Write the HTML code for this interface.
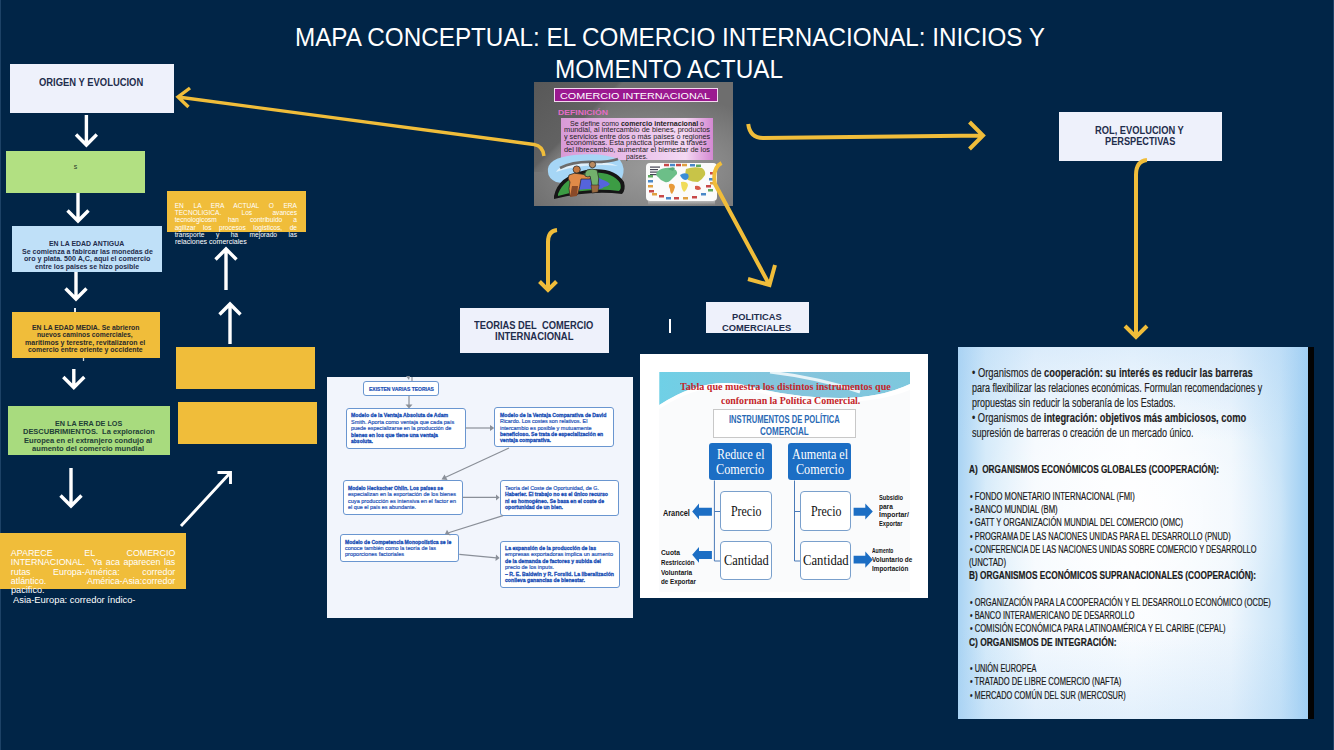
<!DOCTYPE html>
<html><head><meta charset="utf-8">
<style>
html,body{margin:0;padding:0;}
body{width:1334px;height:750px;overflow:hidden;background:#012547;position:relative;font-family:"Liberation Sans",sans-serif;}
.a{position:absolute;box-sizing:border-box;}
svg{position:absolute;left:0;top:0;}
.bx{background:#fff;border:1.2px solid #6a96d0;border-radius:3px;}
.t{position:absolute;white-space:nowrap;line-height:1;transform-origin:0 50%;}
</style></head><body>
<div class="a" style="left:0;top:0;width:1px;height:750px;background:#1d4266"></div>

<!-- left column -->
<div class="a" style="left:10px;top:64px;width:164px;height:49px;background:#eef1fb"></div>
<div class="a" style="left:6px;top:151px;width:139px;height:42px;background:#b2e082"></div>
<div class="a" style="left:12px;top:226px;width:150px;height:46px;background:#bfe0f8"></div>
<div class="a" style="left:12px;top:312px;width:148px;height:46px;background:#f0bd3a"></div>
<div class="a" style="left:8px;top:406px;width:162px;height:49px;background:#a8db7e"></div>
<div class="a" style="left:0px;top:533px;width:186px;height:56px;background:#f0bd3a"></div>

<!-- middle-left column -->
<div class="a" style="left:167px;top:191px;width:139px;height:41px;background:#f0bd3a"></div>
<div class="a" style="left:176px;top:347px;width:139px;height:42px;background:#f0bd3a"></div>
<div class="a" style="left:178px;top:402px;width:139px;height:42px;background:#f0bd3a"></div>

<!-- center image -->
<div class="a" style="left:534px;top:82px;width:199px;height:124px;background:radial-gradient(ellipse 70% 60% at 60% 70%,#9a9a9a 0%,#8a8a8a 45%,#6e6e6e 100%);overflow:hidden">
 <div class="a" style="left:0;top:0;width:90px;height:90px;background:linear-gradient(135deg,#585858 0%,#626262 47%,#6e6e6e 50%,rgba(120,120,120,0) 56%)"></div>
 <div class="a" style="left:20px;top:6px;width:164px;height:14px;background:#9b1990;border:1px solid #f4d8f0"></div>
 <div class="a" style="left:27px;top:36px;width:152px;height:42px;background:linear-gradient(90deg,#d89ad6 0%,#e6b8e6 35%,#f0d0f0 70%,#f4d8f2 82%,#d488d2 100%)"></div>
 <svg width="199" height="124" viewBox="0 0 199 124" style="position:absolute;left:0;top:0">
  <path d="M14 90Q12 76 40 73Q70 70 86 78Q92 86 88 96Q84 102 70 101Q40 104 22 100Q14 96 14 90Z" fill="#a6d6f6"/>
  <path d="M22 90Q28 80 50 80Q70 78 84 84Q70 82 50 84Q32 86 22 90Z" fill="#dff0fb"/>
  <path d="M26 86Q40 79 60 80Q76 80 84 77" stroke="#6c6c6c" stroke-width="2.6" fill="none"/>
  <path d="M20 114Q24 94 52 88Q80 84 90 100Q92 108 88 112Q56 108 20 117Z" fill="#161616"/>
  <path d="M24 112Q30 96 52 91Q78 88 86 101Q88 106 85 109Q56 105 24 114Z" fill="#3c9c44"/>
  <path d="M36 110Q38 98 52 94Q66 93 70 100Q72 106 66 107Q50 106 36 110Z" fill="#5564dc"/>
  <path d="M62 98Q70 96 76 102Q72 106 64 105Z" fill="#5564dc"/>
  <circle cx="42.7" cy="87.5" r="3.6" fill="#c47840" stroke="#222" stroke-width="0.7"/>
  <path d="M35 93Q40 90 47 92L57 94L56 97L47 97Q46 104 44 112L36 114Q34 106 36 100Q33 97 35 93Z" fill="#e08a48" stroke="#222" stroke-width="0.7"/>
  <path d="M38 104L44 104L43 114L36 115Z" fill="#8a4a28"/>
  <circle cx="58.5" cy="82.6" r="3.2" fill="#b88a60" stroke="#222" stroke-width="0.7"/>
  <path d="M53 88Q58 86 63 88Q66 96 64 104L58 104Q57 98 56 94L54 95L51 94Q50 91 53 88Z" fill="#72b06c" stroke="#222" stroke-width="0.7"/>
  <path d="M57 103L65 103L64 110L58 111Z" fill="#9a6a40" stroke="#222" stroke-width="0.5"/>
 </svg>
 <div class="a" style="left:112px;top:80.5px;width:71px;height:38px;background:#fbfbfb;border-radius:4px;overflow:hidden">
  <svg width="71" height="38" viewBox="0 0 71 38" style="position:absolute;left:0;top:0">
   <g fill="#445"><rect x="4" y="3.5" width="10" height="1.2"/><rect x="4" y="6" width="8" height="1.2"/><rect x="4" y="8.5" width="9" height="1.2"/><rect x="4" y="11" width="7" height="1.2"/></g>
   <path d="M11 9Q16 4 26 5Q32 7 31 11Q28 14 25 17Q22 20 19 19Q14 17 12 14Q9 12 11 9Z" fill="#6cbf88"/>
   <path d="M22 6Q26 3 29 5L27 8Z" fill="#58a878"/>
   <path d="M23.5 21Q28 20 29 24Q28 28 26 31Q24 30 24 26Q22 23 23.5 21Z" fill="#e89a38"/>
   <path d="M40 6Q48 3 56 5Q60 8 59 12Q56 17 52 19Q46 19 42 17Q38 13 40 6Z" fill="#c8c448"/>
   <path d="M34 12Q38 9 42 11Q44 15 40 17Q36 17 34 12Z" fill="#3a8ed8"/>
   <path d="M35 19Q41 18 42 22Q41 27 38 29Q35 26 35 19Z" fill="#f0dc58"/>
   <path d="M49 23Q54 22 55 26Q52 28 49 26Z" fill="#d85a4a"/>
   <g fill="#c84848"><rect x="18" y="0.8" width="5" height="2.5"/><rect x="30" y="0.8" width="5" height="2.5"/><rect x="64" y="9" width="5" height="2.5"/><rect x="60" y="22" width="5" height="2.5"/><rect x="3" y="27" width="5" height="2.5"/><rect x="28" y="34" width="5" height="2.5"/><rect x="46" y="33" width="5" height="2.5"/><rect x="13" y="32" width="5" height="2.5"/></g>
   <g fill="#4a88c8"><rect x="24" y="0.8" width="5" height="2.5"/><rect x="44" y="1" width="5" height="2.5"/><rect x="2" y="17" width="5" height="2.5"/><rect x="63" y="15" width="5" height="2.5"/><rect x="20" y="34" width="5" height="2.5"/><rect x="55" y="30" width="5" height="2.5"/></g>
   <g fill="#e0a040"><rect x="36" y="0.8" width="5" height="2.5"/><rect x="2" y="22" width="5" height="2.5"/><rect x="37" y="34" width="5" height="2.5"/><rect x="64" y="19" width="5" height="2.5"/><rect x="6" y="30" width="5" height="2.5"/></g>
   <g fill="#60a860"><rect x="50" y="1.5" width="5" height="2.5"/><rect x="2" y="12" width="5" height="2.5"/><rect x="62" y="26" width="5" height="2.5"/></g>
  </svg>
 </div>
 <div class="a" style="left:114px;top:119px;width:67px;height:4px;background:linear-gradient(180deg,rgba(220,220,220,0.6),rgba(150,150,150,0))"></div>
</div>

<!-- label boxes -->
<div class="a" style="left:1059px;top:112px;width:163px;height:49px;background:#eef1fb"></div>
<div class="a" style="left:706px;top:302px;width:103px;height:31px;background:#eef1fb"></div>
<div class="a" style="left:460px;top:308px;width:149px;height:45px;background:#eef1fb"></div>

<!-- panels -->
<div class="a" style="left:327px;top:377px;width:306px;height:241px;background:#f2f5fc"></div>
<div class="a bx" style="left:363.4px;top:381px;width:75.2px;height:15.2px"></div>
<div class="a bx" style="left:345.6px;top:408.2px;width:120px;height:40.8px"></div>
<div class="a bx" style="left:494.3px;top:407.3px;width:119.5px;height:40.2px"></div>
<div class="a bx" style="left:342.7px;top:480px;width:120px;height:34.7px"></div>
<div class="a bx" style="left:499.6px;top:480.4px;width:119.4px;height:35.2px"></div>
<div class="a bx" style="left:339.6px;top:534.3px;width:119.7px;height:28px"></div>
<div class="a bx" style="left:499.6px;top:541px;width:120px;height:47.4px"></div>
<svg width="1334" height="750" viewBox="0 0 1334 750" style="position:absolute;left:0;top:0">
 <g stroke="#8a8f98" stroke-width="1.2" fill="none">
  <path d="M412 377V381"/>
  <path d="M409 396V405"/>
  <path d="M465.6 428H491"/>
  <path d="M509 448L444 478"/>
  <path d="M462.7 497.4H496.5"/>
  <path d="M503 515.6L448.5 532.8"/>
  <path d="M459.3 554.3L496.5 557.8"/>
 </g>
 <g fill="#8a8f98">
  <path d="M405.5 404.5L412.5 404.5L409 408.5Z"/>
  <path d="M490 425L494.3 428L490 431Z"/>
  <path d="M444.5 474.5L441.5 479.5L447.5 480Z"/>
  <path d="M496 494.4L499.6 497.4L496 500.4Z"/>
  <path d="M447 529.8L445 534L450.5 535.5Z"/>
  <path d="M496 554.6L499.6 558L495.5 561Z"/>
  <path d="M406 376L410 376L409 380Z"/>
 </g>
</svg>
<div class="a" style="left:640px;top:354px;width:288px;height:244px;background:#fff"></div>
<div class="a" style="left:659.3px;top:372px;width:250.7px;height:220px;background:#fafbfc"></div>
<svg width="1334" height="750" viewBox="0 0 1334 750" style="position:absolute;left:0;top:0">
 <defs>
  <linearGradient id="wv" x1="0" y1="0" x2="1" y2="0">
   <stop offset="0" stop-color="#6fd0e6"/><stop offset="0.5" stop-color="#86c4dc"/><stop offset="1" stop-color="#7ec8de"/>
  </linearGradient>
 </defs>
 <path d="M659.3 372H910V384Q880 398 840 398Q790 398 740 384Q700 378 659.3 405Z" fill="url(#wv)"/>
 <path d="M659.3 405Q700 378 740 384Q790 398 840 398Q880 398 910 384V390Q880 402 840 402Q790 402 740 388Q700 382 659.3 409Z" fill="#fff" opacity="0.9"/>
 <path d="M770 372Q820 378 860 392" stroke="#fff" stroke-width="3" fill="none" opacity="0.8"/>
</svg>
<div class="a" style="left:713px;top:409.3px;width:142.7px;height:29px;background:#fff;border:1px solid #c8c8c8"></div>
<div class="a" style="left:708.7px;top:442.6px;width:62.9px;height:37.9px;background:#1c6ec4;border-radius:3px"></div>
<div class="a" style="left:788.1px;top:442.6px;width:62.7px;height:37.9px;background:#1c6ec4;border-radius:3px"></div>
<svg width="1334" height="750" viewBox="0 0 1334 750" style="position:absolute;left:0;top:0">
 <g stroke="#4a7ab8" stroke-width="1" fill="none">
  <path d="M714.4 480.5V561H720.4M714.4 511.5H720.4"/>
  <path d="M794.5 480.5V561H800.3M794.5 511.5H800.3"/>
 </g>
 <g fill="#1c6ec4">
  <path d="M711.9 507.8H699V503.6L692.2 511.5L699 519.4V515.7H711.9Z"/>
  <path d="M711.9 551H699V546.9L692.2 554.8L699 562.7V559H711.9Z"/>
  <path d="M853.6 507.8H865.3V503.6L872.8 511.5L865.3 519.4V515.7H853.6Z"/>
  <path d="M853.6 555.8H865.3V551.6L872.8 559.7L865.3 567.8V563.6H853.6Z"/>
 </g>
</svg>
<div class="a" style="left:720.4px;top:491.2px;width:51.6px;height:40.1px;background:#fff;border:1px solid #7aa0cc;border-radius:4px"></div>
<div class="a" style="left:720.4px;top:540.7px;width:51.6px;height:39.7px;background:#fff;border:1px solid #7aa0cc;border-radius:4px"></div>
<div class="a" style="left:800.3px;top:491.2px;width:51.2px;height:40.1px;background:#fff;border:1px solid #7aa0cc;border-radius:4px"></div>
<div class="a" style="left:800.3px;top:540.7px;width:51.2px;height:39.7px;background:#fff;border:1px solid #7aa0cc;border-radius:4px"></div>
<div class="a" style="left:1302px;top:347px;width:12px;height:372px;background:#030303"></div>
<div class="a" style="left:1333px;top:0;width:1px;height:750px;background:#1d4266"></div>
<div class="a" style="left:958px;top:347px;width:350px;height:372px;background:radial-gradient(ellipse 45% 40% at 50% 45%,rgba(255,255,255,0.9) 0%,rgba(255,255,255,0) 100%),linear-gradient(90deg,#a9d3f3 0%,#d6ebfa 8%,#f4f9fe 22%,#fbfdff 50%,#eef6fd 78%,#c9e4f8 92%,#9ccdf2 100%);overflow:hidden">
<div class="a" style="left:0;top:0;width:350px;height:372px;background:linear-gradient(180deg,rgba(170,210,245,0.35) 0%,rgba(255,255,255,0) 25%,rgba(255,255,255,0) 75%,rgba(170,210,245,0.3) 100%)"></div>
</div>



<div class="t" style="left:294.50px;top:25.03px;font-size:25px;color:#ffffff;transform:scaleX(0.9699);">MAPA CONCEPTUAL: EL COMERCIO INTERNACIONAL: INICIOS Y</div>
<div class="t" style="left:555.00px;top:57.03px;font-size:25px;color:#ffffff;transform:scaleX(0.9731);">MOMENTO ACTUAL</div>
<div class="t" style="left:39.40px;top:77.78px;font-size:10.3px;color:#1f2d4c;font-weight:bold;transform:scaleX(0.9135);">ORIGEN Y EVOLUCION</div>
<div class="t" style="left:1095.40px;top:126.23px;font-size:10px;color:#1f2d4c;font-weight:bold;transform:scaleX(0.9309);">ROL, EVOLUCION Y</div>
<div class="t" style="left:1104.60px;top:136.83px;font-size:10px;color:#1f2d4c;font-weight:bold;transform:scaleX(0.9203);">PERSPECTIVAS</div>
<div class="t" style="left:732.00px;top:312.36px;font-size:9.5px;color:#1f2d4c;font-weight:bold;transform:scaleX(0.9808);">POLITICAS</div>
<div class="t" style="left:722.20px;top:323.06px;font-size:9.5px;color:#1f2d4c;font-weight:bold;transform:scaleX(0.9857);">COMERCIALES</div>
<div class="t" style="left:474.20px;top:320.79px;font-size:10.4px;color:#1f2d4c;font-weight:bold;transform:scaleX(0.8985);">TEORIAS DEL&nbsp; COMERCIO</div>
<div class="t" style="left:494.60px;top:331.59px;font-size:10.4px;color:#1f2d4c;font-weight:bold;transform:scaleX(0.9126);">INTERNACIONAL</div>
<div class="t" style="left:49.30px;top:239.87px;font-size:7.0px;color:#1f2d4c;font-weight:bold;transform:scaleX(0.9883);">EN LA EDAD ANTIGUA</div>
<div class="t" style="left:21.60px;top:247.77px;font-size:7.0px;color:#1f2d4c;font-weight:bold;transform:scaleX(1.0035);">Se comienza a fabircar las monedas de</div>
<div class="t" style="left:23.70px;top:255.37px;font-size:7.0px;color:#1f2d4c;font-weight:bold;transform:scaleX(1.0198);">oro y plata. 500 A,C, aqui el comercio</div>
<div class="t" style="left:35.00px;top:263.47px;font-size:7.0px;color:#1f2d4c;font-weight:bold;transform:scaleX(0.9900);">entre los paises se hizo posible</div>
<div class="t" style="left:31.50px;top:325.09px;font-size:7.1px;color:#2a2a2a;font-weight:bold;transform:scaleX(0.9694);">EN LA EDAD MEDIA. Se abrieron</div>
<div class="t" style="left:37.30px;top:332.49px;font-size:7.1px;color:#2a2a2a;font-weight:bold;transform:scaleX(0.9518);">nuevos caminos comerciales,</div>
<div class="t" style="left:25.10px;top:339.69px;font-size:7.1px;color:#2a2a2a;font-weight:bold;transform:scaleX(0.9906);">maritimos y terestre, revitalizaron el</div>
<div class="t" style="left:28.00px;top:346.89px;font-size:7.1px;color:#2a2a2a;font-weight:bold;transform:scaleX(0.9763);">comercio entre oriente y occidente</div>
<div class="t" style="left:54.70px;top:419.80px;font-size:7.8px;color:#1e4036;font-weight:bold;transform:scaleX(0.9265);">EN LA ERA DE LOS</div>
<div class="t" style="left:22.70px;top:427.90px;font-size:7.8px;color:#1e4036;font-weight:bold;transform:scaleX(0.9576);">DESCUBRIMIENTOS.&nbsp; La exploracion</div>
<div class="t" style="left:24.30px;top:436.70px;font-size:7.8px;color:#1e4036;font-weight:bold;transform:scaleX(0.9701);">Europea en el extranjero condujo al</div>
<div class="t" style="left:32.40px;top:445.00px;font-size:7.8px;color:#1e4036;font-weight:bold;transform:scaleX(0.9755);">aumento del comercio mundial</div>
<div class="t" style="left:10.80px;top:548.96px;font-size:8.9px;color:#ffffff;width:164.50px;text-align:justify;text-align-last:justify;">APARECE EL COMERCIO</div>
<div class="t" style="left:10.80px;top:558.06px;font-size:8.9px;color:#ffffff;width:164.50px;text-align:justify;text-align-last:justify;">INTERNACIONAL.&nbsp; Ya aca aparecen las</div>
<div class="t" style="left:10.80px;top:567.76px;font-size:8.9px;color:#ffffff;width:164.50px;text-align:justify;text-align-last:justify;">rutas Europa-América: corredor</div>
<div class="t" style="left:10.80px;top:576.86px;font-size:8.9px;color:#ffffff;width:164.50px;text-align:justify;text-align-last:justify;">atlántico. América-Asia:corredor</div>
<div class="t" style="left:10.80px;top:586.26px;font-size:8.9px;color:#ffffff;transform:scaleX(1.0319);">pacifico.</div>
<div class="t" style="left:13.20px;top:596.06px;font-size:8.9px;color:#ffffff;transform:scaleX(1.0567);">Asia-Europa: corredor índico-</div>
<div class="t" style="left:174.70px;top:203.21px;font-size:6.6px;color:#ffffff;width:122.30px;text-align:justify;text-align-last:justify;">EN LA ERA ACTUAL O ERA</div>
<div class="t" style="left:174.70px;top:210.31px;font-size:6.6px;color:#ffffff;width:122.30px;text-align:justify;text-align-last:justify;">TECNOLIGICA. Los avances</div>
<div class="t" style="left:174.70px;top:217.41px;font-size:6.6px;color:#ffffff;width:122.30px;text-align:justify;text-align-last:justify;">tecnologicosm han contribuido a</div>
<div class="t" style="left:174.70px;top:224.51px;font-size:6.6px;color:#ffffff;width:122.30px;text-align:justify;text-align-last:justify;">agilizar los procesos logisticos, de</div>
<div class="t" style="left:174.70px;top:231.61px;font-size:6.6px;color:#ffffff;width:122.30px;text-align:justify;text-align-last:justify;">transporte y ha mejorado las</div>
<div class="t" style="left:174.70px;top:238.71px;font-size:6.6px;color:#ffffff;transform:scaleX(1.0689);">relaciones comerciales</div>
<div class="t" style="left:971.80px;top:367.49px;font-size:12.3px;color:#222222;transform:scaleX(0.7615);-webkit-text-stroke:0.15px #222;">• Organismos de <b>cooperación: su interés es reducir las barreras</b></div>
<div class="t" style="left:971.80px;top:382.29px;font-size:12.3px;color:#222222;transform:scaleX(0.7283);-webkit-text-stroke:0.15px #222;">para flexibilizar las relaciones económicas. Formulan recomendaciones y</div>
<div class="t" style="left:971.80px;top:397.09px;font-size:12.3px;color:#222222;transform:scaleX(0.7282);-webkit-text-stroke:0.15px #222;">propuestas sin reducir la soberanía de los Estados.</div>
<div class="t" style="left:971.80px;top:411.89px;font-size:12.3px;color:#222222;transform:scaleX(0.7595);-webkit-text-stroke:0.15px #222;">• Organismos de <b>integración: objetivos más ambiciosos, como</b></div>
<div class="t" style="left:971.80px;top:426.69px;font-size:12.3px;color:#222222;transform:scaleX(0.7351);-webkit-text-stroke:0.15px #222;">supresión de barreras o creación de un mercado único.</div>
<div class="t" style="left:968.90px;top:464.42px;font-size:10.6px;color:#1a1a1a;font-weight:bold;transform:scaleX(0.7754);-webkit-text-stroke:0.2px #1a1a1a;">A)&nbsp; ORGANISMOS ECONÓMICOS GLOBALES (COOPERACIÓN):</div>
<div class="t" style="left:969.50px;top:490.92px;font-size:10.6px;color:#1a1a1a;transform:scaleX(0.7230);-webkit-text-stroke:0.2px #1a1a1a;">• FONDO MONETARIO INTERNACIONAL (FMI)</div>
<div class="t" style="left:969.50px;top:504.17px;font-size:10.6px;color:#1a1a1a;transform:scaleX(0.7281);-webkit-text-stroke:0.2px #1a1a1a;">• BANCO MUNDIAL (BM)</div>
<div class="t" style="left:969.50px;top:517.42px;font-size:10.6px;color:#1a1a1a;transform:scaleX(0.7157);-webkit-text-stroke:0.2px #1a1a1a;">• GATT Y ORGANIZACIÓN MUNDIAL DEL COMERCIO (OMC)</div>
<div class="t" style="left:969.50px;top:530.67px;font-size:10.6px;color:#1a1a1a;transform:scaleX(0.7026);-webkit-text-stroke:0.2px #1a1a1a;">• PROGRAMA DE LAS NACIONES UNIDAS PARA EL DESARROLLO (PNUD)</div>
<div class="t" style="left:969.50px;top:543.92px;font-size:10.6px;color:#1a1a1a;transform:scaleX(0.6964);-webkit-text-stroke:0.2px #1a1a1a;">• CONFERENCIA DE LAS NACIONES UNIDAS SOBRE COMERCIO Y DESARROLLO</div>
<div class="t" style="left:968.90px;top:557.17px;font-size:10.6px;color:#1a1a1a;transform:scaleX(0.7358);-webkit-text-stroke:0.2px #1a1a1a;">(UNCTAD)</div>
<div class="t" style="left:968.90px;top:570.42px;font-size:10.6px;color:#1a1a1a;font-weight:bold;transform:scaleX(0.7805);-webkit-text-stroke:0.2px #1a1a1a;">B) ORGANISMOS ECONÓMICOS SUPRANACIONALES (COOPERACIÓN):</div>
<div class="t" style="left:969.50px;top:596.92px;font-size:10.6px;color:#1a1a1a;transform:scaleX(0.7042);-webkit-text-stroke:0.2px #1a1a1a;">• ORGANIZACIÓN PARA LA COOPERACIÓN Y EL DESARROLLO ECONÓMICO (OCDE)</div>
<div class="t" style="left:969.50px;top:610.17px;font-size:10.6px;color:#1a1a1a;transform:scaleX(0.6963);-webkit-text-stroke:0.2px #1a1a1a;">• BANCO INTERAMERICANO DE DESARROLLO</div>
<div class="t" style="left:969.50px;top:623.42px;font-size:10.6px;color:#1a1a1a;transform:scaleX(0.7142);-webkit-text-stroke:0.2px #1a1a1a;">• COMISIÓN ECONÓMICA PARA LATINOAMÉRICA Y EL CARIBE (CEPAL)</div>
<div class="t" style="left:968.90px;top:636.67px;font-size:10.6px;color:#1a1a1a;font-weight:bold;transform:scaleX(0.7936);-webkit-text-stroke:0.2px #1a1a1a;">C) ORGANISMOS DE INTEGRACIÓN:</div>
<div class="t" style="left:969.50px;top:663.17px;font-size:10.6px;color:#1a1a1a;transform:scaleX(0.6960);-webkit-text-stroke:0.2px #1a1a1a;">• UNIÓN EUROPEA</div>
<div class="t" style="left:969.50px;top:676.42px;font-size:10.6px;color:#1a1a1a;transform:scaleX(0.7141);-webkit-text-stroke:0.2px #1a1a1a;">• TRATADO DE LIBRE COMERCIO (NAFTA)</div>
<div class="t" style="left:969.50px;top:689.67px;font-size:10.6px;color:#1a1a1a;transform:scaleX(0.6950);-webkit-text-stroke:0.2px #1a1a1a;">• MERCADO COMÚN DEL SUR (MERCOSUR)</div>
<div class="t" style="left:368.60px;top:386.83px;font-size:5.4px;color:#1a4fb6;font-weight:bold;transform:scaleX(0.9271);-webkit-text-stroke:0.2px #1a4fb6;">EXISTEN VARIAS TEORIAS</div>
<div class="t" style="left:351.00px;top:413.46px;font-size:5.6px;color:#1a4fb6;font-weight:bold;transform:scaleX(0.9234);-webkit-text-stroke:0.3px #1a4fb6;">Modelo de la Ventaja Absoluta de Adam</div>
<div class="t" style="left:351.00px;top:419.96px;font-size:5.6px;color:#1a4fb6;transform:scaleX(0.9818);-webkit-text-stroke:0.18px #1a4fb6;">Smith. Aporta como ventaja que cada país</div>
<div class="t" style="left:351.00px;top:426.46px;font-size:5.6px;color:#1a4fb6;transform:scaleX(0.9734);-webkit-text-stroke:0.18px #1a4fb6;">puede especializarse en la producción de</div>
<div class="t" style="left:351.00px;top:432.96px;font-size:5.6px;color:#1a4fb6;font-weight:bold;transform:scaleX(0.9266);-webkit-text-stroke:0.3px #1a4fb6;">bienes en los que tiene una ventaja</div>
<div class="t" style="left:351.00px;top:439.46px;font-size:5.6px;color:#1a4fb6;font-weight:bold;transform:scaleX(0.8957);-webkit-text-stroke:0.3px #1a4fb6;">absoluta.</div>
<div class="t" style="left:500.00px;top:412.76px;font-size:5.6px;color:#1a4fb6;font-weight:bold;transform:scaleX(0.9226);-webkit-text-stroke:0.3px #1a4fb6;">Modelo de la Ventaja Comparativa de David</div>
<div class="t" style="left:500.00px;top:419.16px;font-size:5.6px;color:#1a4fb6;transform:scaleX(0.9693);-webkit-text-stroke:0.18px #1a4fb6;">Ricardo. Los costes son relativos. El</div>
<div class="t" style="left:500.00px;top:425.56px;font-size:5.6px;color:#1a4fb6;transform:scaleX(0.9886);-webkit-text-stroke:0.18px #1a4fb6;">intercambio es posible y mutuamente</div>
<div class="t" style="left:500.00px;top:431.96px;font-size:5.6px;color:#1a4fb6;font-weight:bold;transform:scaleX(0.9085);-webkit-text-stroke:0.3px #1a4fb6;">beneficioso. Se trata de especialización en</div>
<div class="t" style="left:500.00px;top:438.36px;font-size:5.6px;color:#1a4fb6;font-weight:bold;transform:scaleX(0.9215);-webkit-text-stroke:0.3px #1a4fb6;">ventaja comparativa.</div>
<div class="t" style="left:348.00px;top:485.76px;font-size:5.6px;color:#1a4fb6;font-weight:bold;transform:scaleX(0.9041);-webkit-text-stroke:0.3px #1a4fb6;">Modelo Heckscher Ohlin. Los países se</div>
<div class="t" style="left:348.00px;top:492.31px;font-size:5.6px;color:#1a4fb6;transform:scaleX(0.9866);-webkit-text-stroke:0.18px #1a4fb6;">especializan en la exportación de los bienes</div>
<div class="t" style="left:348.00px;top:498.86px;font-size:5.6px;color:#1a4fb6;transform:scaleX(0.9922);-webkit-text-stroke:0.18px #1a4fb6;">cuya producción es intensiva en el factor en</div>
<div class="t" style="left:348.00px;top:505.41px;font-size:5.6px;color:#1a4fb6;transform:scaleX(0.9673);-webkit-text-stroke:0.18px #1a4fb6;">el que el país es abundante.</div>
<div class="t" style="left:505.00px;top:486.06px;font-size:5.6px;color:#1a4fb6;transform:scaleX(0.9627);-webkit-text-stroke:0.18px #1a4fb6;">Teoría del Coste de Oportunidad, de G.</div>
<div class="t" style="left:505.00px;top:492.41px;font-size:5.6px;color:#1a4fb6;font-weight:bold;transform:scaleX(0.9203);-webkit-text-stroke:0.3px #1a4fb6;">Haberler. El trabajo no es el único recurso</div>
<div class="t" style="left:505.00px;top:498.76px;font-size:5.6px;color:#1a4fb6;font-weight:bold;transform:scaleX(0.9098);-webkit-text-stroke:0.3px #1a4fb6;">ni es homogéneo. Se basa en el coste de</div>
<div class="t" style="left:505.00px;top:505.11px;font-size:5.6px;color:#1a4fb6;font-weight:bold;transform:scaleX(0.9105);-webkit-text-stroke:0.3px #1a4fb6;">oportunidad de un bien.</div>
<div class="t" style="left:345.00px;top:539.66px;font-size:5.6px;color:#1a4fb6;font-weight:bold;transform:scaleX(0.9047);-webkit-text-stroke:0.3px #1a4fb6;">Modelo de Competencia Monopolística se le</div>
<div class="t" style="left:345.00px;top:546.06px;font-size:5.6px;color:#1a4fb6;transform:scaleX(0.9787);-webkit-text-stroke:0.18px #1a4fb6;">conoce también como la teoría de las</div>
<div class="t" style="left:345.00px;top:552.46px;font-size:5.6px;color:#1a4fb6;transform:scaleX(0.9934);-webkit-text-stroke:0.18px #1a4fb6;">proporciones factoriales</div>
<div class="t" style="left:505.00px;top:546.06px;font-size:5.6px;color:#1a4fb6;font-weight:bold;transform:scaleX(0.9147);-webkit-text-stroke:0.3px #1a4fb6;">La expansión de la producción de las</div>
<div class="t" style="left:505.00px;top:552.46px;font-size:5.6px;color:#1a4fb6;transform:scaleX(0.9924);-webkit-text-stroke:0.18px #1a4fb6;">empresas exportadoras implica un aumento</div>
<div class="t" style="left:505.00px;top:558.86px;font-size:5.6px;color:#1a4fb6;font-weight:bold;transform:scaleX(0.9218);-webkit-text-stroke:0.3px #1a4fb6;">de la demanda de factores y subida del</div>
<div class="t" style="left:505.00px;top:565.26px;font-size:5.6px;color:#1a4fb6;transform:scaleX(0.9846);-webkit-text-stroke:0.18px #1a4fb6;">precio de los inputs.</div>
<div class="t" style="left:505.00px;top:571.66px;font-size:5.6px;color:#1a4fb6;font-weight:bold;transform:scaleX(0.9179);-webkit-text-stroke:0.3px #1a4fb6;">– R. E. Baldwin y R. Forslid. La liberalización</div>
<div class="t" style="left:505.00px;top:578.06px;font-size:5.6px;color:#1a4fb6;font-weight:bold;transform:scaleX(0.9189);-webkit-text-stroke:0.3px #1a4fb6;">conlleva ganancias de bienestar.</div>
<div class="t" style="left:680.00px;top:382.26px;font-size:10.2px;color:#c4262a;font-weight:bold;font-family:'Liberation Serif',serif;transform:scaleX(0.9891);">Tabla que muestra los distintos instrumentos que</div>
<div class="t" style="left:720.70px;top:396.26px;font-size:10.2px;color:#c4262a;font-weight:bold;font-family:'Liberation Serif',serif;transform:scaleX(0.9704);">conforman la Política Comercial.</div>
<div class="t" style="left:729.00px;top:413.82px;font-size:10.6px;color:#2a6ab5;font-weight:bold;transform:scaleX(0.7160);">INSTRUMENTOS DE POLÍTICA</div>
<div class="t" style="left:760.00px;top:425.82px;font-size:10.6px;color:#2a6ab5;font-weight:bold;transform:scaleX(0.7591);">COMERCIAL</div>
<div class="t" style="left:716.60px;top:446.76px;font-size:14.5px;color:#fff;font-family:'Liberation Serif',serif;transform:scaleX(0.8250);">Reduce el</div>
<div class="t" style="left:716.00px;top:462.36px;font-size:14.5px;color:#fff;font-family:'Liberation Serif',serif;transform:scaleX(0.8411);">Comercio</div>
<div class="t" style="left:791.70px;top:446.76px;font-size:14.5px;color:#fff;font-family:'Liberation Serif',serif;transform:scaleX(0.8342);">Aumenta el</div>
<div class="t" style="left:796.00px;top:462.36px;font-size:14.5px;color:#fff;font-family:'Liberation Serif',serif;transform:scaleX(0.8393);">Comercio</div>
<div class="t" style="left:731.00px;top:504.36px;font-size:14.5px;color:#111;font-family:'Liberation Serif',serif;transform:scaleX(0.8206);">Precio</div>
<div class="t" style="left:723.60px;top:553.46px;font-size:14.5px;color:#111;font-family:'Liberation Serif',serif;transform:scaleX(0.8556);">Cantidad</div>
<div class="t" style="left:811.00px;top:504.36px;font-size:14.5px;color:#111;font-family:'Liberation Serif',serif;transform:scaleX(0.8206);">Precio</div>
<div class="t" style="left:803.00px;top:553.46px;font-size:14.5px;color:#111;font-family:'Liberation Serif',serif;transform:scaleX(0.8728);">Cantidad</div>
<div class="t" style="left:663.20px;top:508.70px;font-size:8.5px;color:#151515;font-weight:bold;transform:scaleX(0.8593);">Arancel</div>
<div class="t" style="left:661.00px;top:550.41px;font-size:6.6px;color:#151515;font-weight:bold;transform:scaleX(1.0114);">Cuota</div>
<div class="t" style="left:661.00px;top:560.01px;font-size:6.6px;color:#151515;font-weight:bold;transform:scaleX(0.9298);">Restricción</div>
<div class="t" style="left:661.00px;top:570.01px;font-size:6.6px;color:#151515;font-weight:bold;transform:scaleX(0.9822);">Voluntaria</div>
<div class="t" style="left:661.00px;top:579.21px;font-size:6.6px;color:#151515;font-weight:bold;transform:scaleX(0.9521);">de Exportar</div>
<div class="t" style="left:879.20px;top:494.91px;font-size:6.6px;color:#151515;font-weight:bold;transform:scaleX(0.8655);">Subsidio</div>
<div class="t" style="left:879.20px;top:503.51px;font-size:6.6px;color:#151515;font-weight:bold;transform:scaleX(0.9901);">para</div>
<div class="t" style="left:879.20px;top:511.61px;font-size:6.6px;color:#151515;font-weight:bold;transform:scaleX(1.0463);">Importar/</div>
<div class="t" style="left:879.20px;top:520.51px;font-size:6.6px;color:#151515;font-weight:bold;transform:scaleX(0.8664);">Exportar</div>
<div class="t" style="left:871.70px;top:548.31px;font-size:6.6px;color:#151515;font-weight:bold;transform:scaleX(0.7453);">Aumento</div>
<div class="t" style="left:871.70px;top:557.21px;font-size:6.6px;color:#151515;font-weight:bold;transform:scaleX(0.9678);">Voluntario de</div>
<div class="t" style="left:871.70px;top:565.81px;font-size:6.6px;color:#151515;font-weight:bold;transform:scaleX(0.9620);">Importación</div>
<div class="t" style="left:73.80px;top:163.17px;font-size:7px;color:#2a3a2a;">s</div>
<div class="t" style="left:560.00px;top:91.61px;font-size:9.2px;color:#ffffff;transform:scaleX(1.1753);">COMERCIO INTERNACIONAL</div>
<div class="t" style="left:558.00px;top:109.20px;font-size:7.8px;color:#e46cc6;font-weight:bold;transform:scaleX(1.1096);">DEFINICIÓN</div>
<div class="t" style="left:569.60px;top:120.68px;font-size:6.4px;color:#1e1e1e;transform:scaleX(1.1029);">Se define como <b>comercio internacional</b> o</div>
<div class="t" style="left:563.60px;top:127.28px;font-size:6.4px;color:#1e1e1e;transform:scaleX(1.1512);">mundial, al intercambio de bienes, productos</div>
<div class="t" style="left:563.60px;top:133.88px;font-size:6.4px;color:#1e1e1e;transform:scaleX(1.1261);">y servicios entre dos o más países o regiones</div>
<div class="t" style="left:566.40px;top:140.48px;font-size:6.4px;color:#1e1e1e;transform:scaleX(1.1507);">económicas. Esta práctica permite a través</div>
<div class="t" style="left:563.60px;top:147.08px;font-size:6.4px;color:#1e1e1e;transform:scaleX(1.1479);">del librecambio, aumentar el bienestar de los</div>
<div class="t" style="left:626.00px;top:153.68px;font-size:6.4px;color:#1e1e1e;transform:scaleX(1.0481);">países.</div>
<svg width="1334" height="750" viewBox="0 0 1334 750" style="position:absolute;left:0;top:0">
<g fill="none" stroke="#fff" stroke-width="3.4" stroke-linejoin="miter">
 <path d="M86.4 115V145M76 134.5L86.4 145L96.8 134.5"/>
 <path d="M78 193V221M67.5 210.5L78 221L88.5 210.5"/>
 <path d="M76 272V299M65.5 288.5L76 299L86.5 288.5"/>
 <path d="M75 308V312" stroke-width="1.8"/>
 <path d="M83.5 358V361" stroke-width="1.3" opacity="0.8"/>
 <path d="M73.8 369V387.5M63.3 377L73.8 387.5L84.3 377"/>
 <path d="M71 468V506M60.5 495.5L71 506L81.5 495.5"/>
 <path d="M226 290V249M215.5 259.5L226 249L236.5 259.5"/>
 <path d="M230 344V304M219.5 314.5L230 304L240.5 314.5"/>
 <path d="M181 526L230.5 472.5M217.5 472.5H230.5V484" stroke-width="2.9"/>
</g>
<g fill="none" stroke="#f0bd3a" stroke-width="4" stroke-linecap="butt" stroke-linejoin="miter">
 <path d="M544 156Q543 146 534 144.5L178 97M190 88L178 97L188.5 107" stroke-width="3.4"/>
 <path d="M748.2 124Q750 138 763 138L983 135.5M969.5 122L983 135.5L969.5 149"/>
 <path d="M1147 160Q1136 161 1136 175V337M1125 326L1136 337L1147 326"/>
 <path d="M721.5 163Q712 168 715 184L769.5 285M748 279L769.5 285L775 265"/>
 <path d="M557 230Q548 231 548 242V290M539.5 281.5L548 290L556.5 281.5"/>
</g>
<path d="M670 319V333" stroke="#fff" stroke-width="2"/>
</svg>
</body></html>
